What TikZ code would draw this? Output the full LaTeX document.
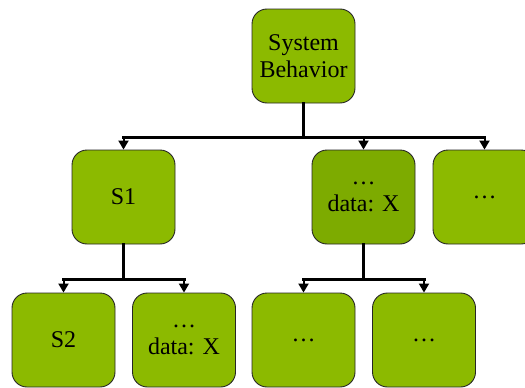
\documentclass[tikz,border=0pt]{standalone}
\usepackage{fontspec}
\setmainfont{Liberation Serif}
\usetikzlibrary{arrows.meta}
\definecolor{leaf}{RGB}{140,186,0}
\definecolor{leafdark}{RGB}{125,171,0}
\tikzset{
  box/.style={draw=black!85, line width=0.9pt, fill=leaf, rounded corners=15pt,
    minimum width=103pt, minimum height=94pt, align=center,
    font=\fontsize{24}{27}\selectfont, inner sep=0pt},
  darkbox/.style={box, fill=leafdark},
  link/.style={line width=3pt, line cap=rect},
  drop/.style={line width=2pt, -{Triangle[width=10pt,length=9pt]}, shorten >=0pt},
}
\begin{document}
\begin{tikzpicture}[x=1pt,y=1pt]
  \useasboundingbox (0,0) rectangle (525,-388);
  % root
  \node[box] (root) at (303.5,-56) {System\\Behavior};
  % second level
  \node[box] (s1)  at (123.5,-197) {S1};
  \node[darkbox] (mid) at (363.5,-197) {…\\data: X};
  \node[box] (rgt) at (484.5,-197) {…};
  % third level
  \node[box] (s2) at (63.5,-340) {S2};
  \node[box] (s1b) at (184,-340) {…\\data: X};
  \node[box] (m1) at (303.5,-340) {…};
  \node[box] (m2) at (424,-340) {…};
  % bus lines
  \coordinate (bus0) at (0,-137);
  \coordinate (bus1) at (0,-279);
  % root to second level
  \draw[link] (root.south) -- (root.south |- bus0);
  \draw[link] (s1.north |- bus0) -- (rgt.north |- bus0);
  \foreach \n in {s1,mid,rgt}
    \draw[drop] (\n.north |- bus0) -- (\n.north);
  % S1 to its children
  \draw[link] (s1.south) -- (s1.south |- bus1);
  \draw[link] (s2.north |- bus1) -- (s1b.north |- bus1);
  \foreach \n in {s2,s1b}
    \draw[drop] (\n.north |- bus1) -- (\n.north);
  % middle box to its children
  \draw[link] (mid.south) -- (mid.south |- bus1);
  \draw[link] (m1.north |- bus1) -- (m2.north |- bus1);
  \foreach \n in {m1,m2}
    \draw[drop] (\n.north |- bus1) -- (\n.north);
\end{tikzpicture}
\end{document}
